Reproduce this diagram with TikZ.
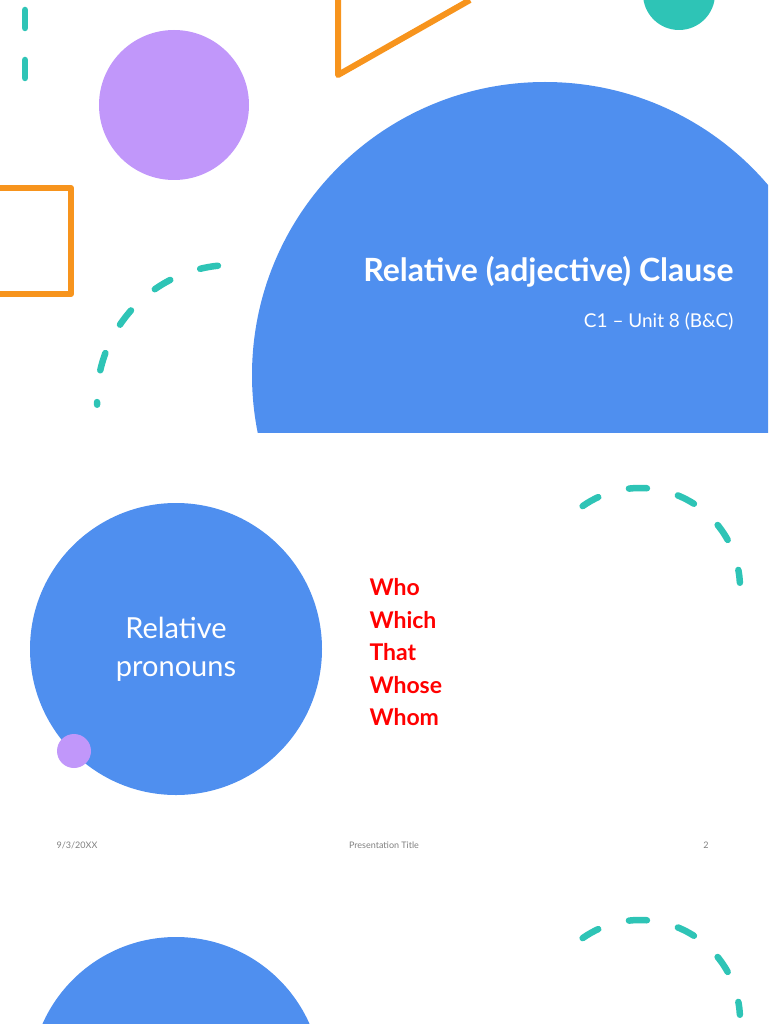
\documentclass[tikz,border=0pt]{standalone}
\usepackage{fontspec}
\setmainfont{Lato}
\definecolor{cblue}{HTML}{4F8FEF}
\definecolor{cpurple}{HTML}{C197FA}
\definecolor{cteal}{HTML}{2EC4B6}
\definecolor{corange}{HTML}{F7941D}
\definecolor{cred}{HTML}{FF0000}
\begin{document}
\begin{tikzpicture}[x=1pt,y=-1pt,
  tealdash/.style={draw=cteal,line width=6.5pt,line cap=round,dash pattern=on 18pt off 32pt},
  orangeline/.style={draw=corange,line width=6pt,line join=round},
  foot/.style={font=\fontsize{9}{11}\selectfont,text=gray}]
\useasboundingbox (0,0) rectangle (768,1024);
% slide 1
\begin{scope}
\clip (0,0) rectangle (768,432);
\fill[cblue] (545,375) circle (293);
\fill[cpurple] (174,105) circle (75);
\fill[cteal] (679,-6) circle (36);
\draw[orangeline] (338,-10) -- (338,75) -- (470,0);
\draw[orangeline] (-40,188) rectangle (71,294);
\draw[tealdash] (25,10) -- (25,100);
\draw[tealdash] (232,400) ++(264:135) arc[start angle=264,end angle=178,radius=135];
\end{scope}
\node[anchor=east,text=white,font=\bfseries\fontsize{32}{38}\selectfont] (title) at (737,272) {Relative (adjective) Clause};
\node[anchor=east,text=white,font=\fontsize{19}{23}\selectfont] (sub) at (737,322) {C1 – Unit 8 (B\&C)};
% slide 2
\fill[cblue] (176,649) circle (146);
\fill[cpurple] (74,751) circle (17);
\node[align=center,text=white,font=\fontsize{29}{38}\selectfont] (rp) at (176,649) {Relative\\pronouns};
\node[anchor=north west,align=left,text=cred,font=\bfseries\fontsize{23}{32.5}\selectfont] (list) at (366,575) {Who\\Which\\That\\Whose\\Whom};
\draw[tealdash] (640,588) ++(235:100) arc[start angle=235,end angle=357,radius=100];
\node[foot] (date) at (77,845) {9/3/20XX};
\node[foot] (pt) at (384,845) {Presentation Title};
\node[foot] (pg) at (706,845) {2};
% slide 3
\begin{scope}
\clip (0,864) rectangle (768,1024);
\fill[cblue] (176,1083) circle (146);
\draw[tealdash] (640,1020) ++(235:100) arc[start angle=235,end angle=357,radius=100];
\end{scope}
\end{tikzpicture}
\end{document}
